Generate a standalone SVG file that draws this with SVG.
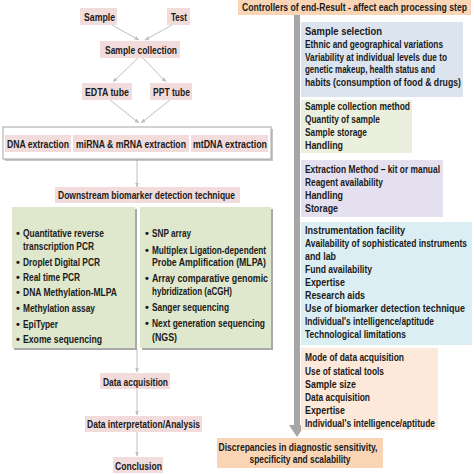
<svg xmlns="http://www.w3.org/2000/svg" width="474" height="474" viewBox="0 0 474 474">
<defs>
<style>
text{font-family:"Liberation Sans",Arial,sans-serif;font-weight:bold;font-size:11px;fill:#1a1a1a}
.c{text-anchor:middle}
.pk{fill:#f2dcdb}
.ln{stroke:#c0c0c0;stroke-width:1;fill:none}
</style>
<marker id="ah" viewBox="0 0 10 10" refX="9" refY="5" markerWidth="5" markerHeight="5" orient="auto"><path d="M0,1 L10,5 L0,9 z" fill="#c0c0c0"/></marker>
</defs>
<rect width="474" height="474" fill="#fff"/>

<g id="connectors">
<line class="ln" x1="112" y1="25" x2="139" y2="40" marker-end="url(#ah)"/>
<line class="ln" x1="172" y1="25" x2="145" y2="40" marker-end="url(#ah)"/>
<line class="ln" x1="138" y1="58" x2="113" y2="82" marker-end="url(#ah)"/>
<line class="ln" x1="143" y1="58" x2="166" y2="82" marker-end="url(#ah)"/>
<line class="ln" x1="110" y1="100" x2="139" y2="123" marker-end="url(#ah)"/>
<line class="ln" x1="170" y1="100" x2="141" y2="123" marker-end="url(#ah)"/>
<line class="ln" x1="137" y1="159" x2="137" y2="187" marker-end="url(#ah)"/>
<line class="ln" x1="137" y1="349" x2="137" y2="372" marker-end="url(#ah)"/>
<line class="ln" x1="137" y1="389" x2="137" y2="415" marker-end="url(#ah)"/>
<line class="ln" x1="137" y1="432" x2="137" y2="456" marker-end="url(#ah)"/>
<rect x="294" y="15" width="6" height="411" fill="#a6a6a6"/>
<path d="M289,425 L305,425 L297,437 z" fill="#a6a6a6"/>
</g>

<g id="sample"><rect class="pk" x="80" y="8" width="37" height="17"/><text class="c" x="99.5" y="20.5" textLength="31" lengthAdjust="spacingAndGlyphs">Sample</text></g>
<g id="test"><rect class="pk" x="167" y="8" width="23" height="17"/><text class="c" x="179" y="20.5" textLength="16" lengthAdjust="spacingAndGlyphs">Test</text></g>
<g id="sample-collection"><rect class="pk" x="100" y="41" width="80" height="17"/><text class="c" x="141" y="53.5" textLength="72" lengthAdjust="spacingAndGlyphs">Sample collection</text></g>
<g id="edta"><rect class="pk" x="82" y="83" width="50" height="17"/><text class="c" x="107" y="95.5" textLength="44" lengthAdjust="spacingAndGlyphs">EDTA tube</text></g>
<g id="ppt"><rect class="pk" x="150" y="83" width="42" height="17"/><text class="c" x="171.5" y="95.5" textLength="37" lengthAdjust="spacingAndGlyphs">PPT tube</text></g>

<g id="extraction">
<rect x="5" y="129" width="268" height="32" fill="#8c8c8c" opacity="0.5"/>
<rect x="3" y="127" width="268" height="32" fill="#fff" stroke="#a6a6a6"/>
<rect class="pk" x="5" y="135" width="66" height="17"/><text x="7" y="147.5" textLength="62" lengthAdjust="spacingAndGlyphs">DNA extraction</text>
<rect class="pk" x="73" y="135" width="116" height="17"/><text x="76" y="147.5" textLength="110" lengthAdjust="spacingAndGlyphs">miRNA  &amp; mRNA extraction</text>
<rect class="pk" x="191" y="135" width="77" height="17"/><text x="193" y="147.5" textLength="74" lengthAdjust="spacingAndGlyphs">mtDNA  extraction</text>
</g>

<g id="downstream"><rect class="pk" x="55" y="187" width="185" height="16"/><text x="58" y="199" textLength="177" lengthAdjust="spacingAndGlyphs">Downstream biomarker detection technique</text></g>

<g id="methods-left">
<rect x="14" y="209" width="123" height="141" fill="#a9a9a9"/>
<rect x="12" y="207" width="123" height="141" fill="#dfe7cc"/>
<text x="16" y="237">•</text><text x="23" y="237" textLength="81" lengthAdjust="spacingAndGlyphs">Quantitative reverse</text>
<text x="23" y="250" textLength="71" lengthAdjust="spacingAndGlyphs">transcription PCR</text>
<text x="16" y="266">•</text><text x="23" y="266" textLength="77" lengthAdjust="spacingAndGlyphs">Droplet Digital PCR</text>
<text x="16" y="281">•</text><text x="23" y="281" textLength="57" lengthAdjust="spacingAndGlyphs">Real time PCR</text>
<text x="16" y="296">•</text><text x="23" y="296" textLength="94" lengthAdjust="spacingAndGlyphs">DNA Methylation-MLPA</text>
<text x="16" y="312">•</text><text x="23" y="312" textLength="72" lengthAdjust="spacingAndGlyphs">Methylation assay</text>
<text x="16" y="328">•</text><text x="23" y="328" textLength="35" lengthAdjust="spacingAndGlyphs">EpiTyper</text>
<text x="16" y="343">•</text><text x="23" y="343" textLength="79" lengthAdjust="spacingAndGlyphs">Exome  sequencing</text>
</g>

<g id="methods-right">
<rect x="142" y="209" width="131" height="141" fill="#a9a9a9"/>
<rect x="140" y="207" width="131" height="141" fill="#dfe7cc"/>
<text x="145" y="237">•</text><text x="152" y="237" textLength="39" lengthAdjust="spacingAndGlyphs">SNP array</text>
<text x="145" y="254">•</text><text x="152" y="254" textLength="114" lengthAdjust="spacingAndGlyphs">Multiplex Ligation-dependent</text>
<text x="152" y="266" textLength="114" lengthAdjust="spacingAndGlyphs">Probe Amplification (MLPA)</text>
<text x="145" y="282">•</text><text x="152" y="282" textLength="116" lengthAdjust="spacingAndGlyphs">Array comparative genomic</text>
<text x="152" y="295" textLength="80" lengthAdjust="spacingAndGlyphs">hybridization (aCGH)</text>
<text x="145" y="311">•</text><text x="152" y="311" textLength="77" lengthAdjust="spacingAndGlyphs">Sanger sequencing</text>
<text x="145" y="327">•</text><text x="152" y="327" textLength="113" lengthAdjust="spacingAndGlyphs">Next generation sequencing</text>
<text x="152" y="341" textLength="25" lengthAdjust="spacingAndGlyphs">(NGS)</text>
</g>

<g id="data-acquisition"><rect class="pk" x="100" y="373" width="70" height="16"/><text class="c" x="135.5" y="385.5" textLength="65" lengthAdjust="spacingAndGlyphs">Data acquisition</text></g>
<g id="data-interpretation"><rect class="pk" x="85" y="416" width="117" height="16"/><text class="c" x="143.5" y="428" textLength="113" lengthAdjust="spacingAndGlyphs">Data interpretation/Analysis</text></g>
<g id="conclusion"><rect class="pk" x="113" y="457" width="50" height="16"/><text class="c" x="138.5" y="469.5" textLength="47" lengthAdjust="spacingAndGlyphs">Conclusion</text></g>

<g id="controllers-header"><rect x="238" y="0" width="233" height="15" fill="#f9d5b5"/><text x="242" y="11" textLength="225" lengthAdjust="spacingAndGlyphs">Controllers of end-Result - affect each processing step</text></g>

<g id="sample-selection">
<rect x="301" y="22" width="162" height="75" fill="#dce4ef"/>
<text x="305" y="35" textLength="77" lengthAdjust="spacingAndGlyphs">Sample selection</text>
<text x="305" y="48" textLength="138" lengthAdjust="spacingAndGlyphs">Ethnic and geographical variations</text>
<text x="305" y="61" textLength="142" lengthAdjust="spacingAndGlyphs">Variability at individual levels due to</text>
<text x="305" y="73" textLength="130" lengthAdjust="spacingAndGlyphs">genetic makeup, health status and</text>
<text x="305" y="86" textLength="156" lengthAdjust="spacingAndGlyphs">habits (consumption of food &amp; drugs)</text>
</g>

<g id="collection-method">
<rect x="301" y="100" width="111" height="53" fill="#ebf0de"/>
<text x="305" y="110" textLength="105" lengthAdjust="spacingAndGlyphs">Sample collection method</text>
<text x="305" y="123" textLength="75" lengthAdjust="spacingAndGlyphs">Quantity of sample</text>
<text x="305" y="136" textLength="62" lengthAdjust="spacingAndGlyphs">Sample storage</text>
<text x="305" y="149" textLength="38" lengthAdjust="spacingAndGlyphs">Handling</text>
</g>

<g id="extraction-method">
<rect x="301" y="160" width="142" height="57" fill="#e4e0ef"/>
<text x="305" y="173" textLength="135" lengthAdjust="spacingAndGlyphs">Extraction Method – kit or manual</text>
<text x="305" y="186" textLength="78" lengthAdjust="spacingAndGlyphs">Reagent availability</text>
<text x="305" y="199" textLength="38" lengthAdjust="spacingAndGlyphs">Handling</text>
<text x="305" y="212" textLength="33" lengthAdjust="spacingAndGlyphs">Storage</text>
</g>

<g id="instrumentation">
<rect x="301" y="222" width="171" height="123" fill="#dbeef3"/>
<text x="305" y="234" textLength="100" lengthAdjust="spacingAndGlyphs">Instrumentation facility</text>
<text x="305" y="247" textLength="162" lengthAdjust="spacingAndGlyphs">Availability of sophisticated instruments</text>
<text x="305" y="260" textLength="31" lengthAdjust="spacingAndGlyphs">and lab</text>
<text x="305" y="273" textLength="67" lengthAdjust="spacingAndGlyphs">Fund availability</text>
<text x="305" y="286" textLength="40" lengthAdjust="spacingAndGlyphs">Expertise</text>
<text x="305" y="299" textLength="60" lengthAdjust="spacingAndGlyphs">Research aids</text>
<text x="305" y="312" textLength="160" lengthAdjust="spacingAndGlyphs">Use of biomarker detection technique</text>
<text x="305" y="325" textLength="129" lengthAdjust="spacingAndGlyphs">Individual's intelligence/aptitude</text>
<text x="305" y="338" textLength="101" lengthAdjust="spacingAndGlyphs">Technological limitations</text>
</g>

<g id="data-mode">
<rect x="301" y="348" width="137" height="82" fill="#fde9d9"/>
<text x="305" y="361" textLength="99" lengthAdjust="spacingAndGlyphs">Mode of data acquisition</text>
<text x="305" y="375" textLength="79" lengthAdjust="spacingAndGlyphs">Use of statical tools</text>
<text x="305" y="388" textLength="51" lengthAdjust="spacingAndGlyphs">Sample size</text>
<text x="305" y="401" textLength="65" lengthAdjust="spacingAndGlyphs">Data acquisition</text>
<text x="305" y="414" textLength="40" lengthAdjust="spacingAndGlyphs">Expertise</text>
<text x="305" y="427" textLength="130" lengthAdjust="spacingAndGlyphs">Individual's intelligence/aptitude</text>
</g>

<g id="discrepancies">
<rect x="217" y="438" width="166" height="30" fill="#fad5b5"/>
<text class="c" x="298" y="451" textLength="159" lengthAdjust="spacingAndGlyphs">Discrepancies in diagnostic sensitivity,</text>
<text class="c" x="300" y="463" textLength="101" lengthAdjust="spacingAndGlyphs">specificity and scalability</text>
</g>
</svg>
